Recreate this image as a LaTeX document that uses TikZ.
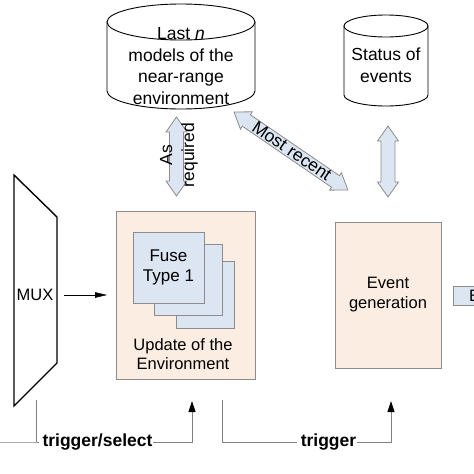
\documentclass[tikz,border=0pt]{standalone}
\usepackage{fontspec}
\setmainfont{Liberation Sans}
\usetikzlibrary{arrows.meta,calc}
\definecolor{peach}{HTML}{FCEDE2}
\definecolor{lblue}{HTML}{DCE6F2}
\definecolor{edgegray}{HTML}{8C8C8C}
\definecolor{linegray}{HTML}{808080}
\newcommand{\dblarrow}[3]{%
  \begin{scope}[shift={#1}, rotate=#2]
    \path[dbl] (0,0) -- (15,10.5) -- (15,7) -- (#3-15,7) -- (#3-15,10.5) -- (#3,0)
      -- (#3-15,-10.5) -- (#3-15,-7) -- (15,-7) -- (15,-10.5) -- cycle;
  \end{scope}}
\begin{document}
\begin{tikzpicture}[x=1pt,y=-1pt,
  every node/.style={inner sep=0pt, outer sep=0pt},
  cyl/.style={draw=black, line width=0.9pt, fill=white},
  peachbox/.style={draw=edgegray, line width=0.9pt, fill=peach},
  fusebox/.style={draw=edgegray, line width=0.9pt, fill=lblue},
  dbl/.style={draw=edgegray, line width=0.8pt, fill=lblue},
  conn/.style={draw=linegray, line width=0.8pt},
  uptip/.style={-{Triangle[length=11pt,width=7pt,color=black]}},
  muxtip/.style={-{Triangle[length=12pt,width=5.5pt]}},
  bigtxt/.style={font=\fontsize{17.5}{21.7}\selectfont, align=center},
  midtxt/.style={font=\fontsize{16.5}{19}\selectfont, align=center},
  fusetxt/.style={font=\fontsize{17}{20}\selectfont, align=center},
  boldtxt/.style={font=\fontsize{17.5}{21}\selectfont\bfseries},
]
\useasboundingbox (0,0) rectangle (474,474);

% cylinder 1
\path[cyl] (107,22) -- (107,91) arc[start angle=180, end angle=360, x radius=74pt, y radius=18pt] -- (255,22) -- cycle;
\draw[cyl] (181,22) ellipse [x radius=74pt, y radius=18pt];
\node[bigtxt] (models) at (181,66) {Last \textit{n}\\models of the\\near-range\\environment};

% cylinder 2
\path[cyl] (344,26) -- (344,95) arc[start angle=180, end angle=360, x radius=42pt, y radius=11pt] -- (428,26) -- cycle;
\draw[cyl] (386,26) ellipse [x radius=42pt, y radius=11pt];
\node[bigtxt] (status) at (386,65.5) {Status of\\events};

% double arrows
\dblarrow{(176.5,117)}{-90}{79}
\node[bigtxt, rotate=90, font=\fontsize{17.5}{22}\selectfont] (asreq) at (179,155) {As\\required};
\dblarrow{(234,112)}{-34.4}{138}
\node[bigtxt, rotate=-34.4] (recent) at (292,151) {Most recent};
\dblarrow{(388,126)}{-90}{71}

% MUX
\draw[line width=1.4pt] (14,175) -- (57,217) -- (57,363) -- (14,406) -- cycle;
\node[midtxt] (mux) at (35,295) {MUX};

% update box
\node[peachbox, minimum width=139pt, minimum height=168pt] (upd) at (185.5,295) {};
\node[fusebox, minimum width=58pt, minimum height=67pt] (fuse3) at (205,294.5) {};
\node[fusebox, minimum width=68pt, minimum height=71pt] (fuse2) at (188,279.5) {};
\node[fusebox, minimum width=71pt, minimum height=71pt] (fuse1) at (168.5,267.5) {};
\node[fusetxt] (fusetext) at (168.5,267.5) {Fuse\\Type 1};
\node[midtxt] (updtext) at (183,354) {Update of the\\Environment};

% event box
\node[peachbox, minimum width=106pt, minimum height=146pt] (event) at (388,295) {};
\node[midtxt, font=\fontsize{16.5}{20}\selectfont] (eventtext) at (388,295) {Event\\generation};

% partial box on the right
\node[fusebox, midtxt, anchor=west, minimum height=19pt, inner xsep=16pt] (ebox) at (453,295.5) {E};

% MUX to update
\draw[muxtip] (mux.east) ++(11,0) coordinate (muxout) -- ($(upd.west)+(-9,0)$);

% bottom trigger lines
\coordinate (leftin) at (0,442);
\coordinate (muxsel) at (36,400);
\coordinate (updin) at (192,401);
\coordinate (updout) at (222,400);
\coordinate (evin) at (391,401);
\node[boldtxt] (tsel) at (97.5,442) {trigger/select};
\node[boldtxt] (trig) at (328.5,442) {trigger};
\draw[conn] (leftin) -- (36,442) -- ([xshift=-4pt]tsel.west);
\draw[conn] (muxsel) -- (36,442);
\draw[conn, uptip] ([xshift=1pt]tsel.east) -| (updin);
\draw[conn] (updout) |- ([xshift=-4pt]trig.west);
\draw[conn, uptip] ([xshift=1pt]trig.east) -| (evin);
\end{tikzpicture}
\end{document}
